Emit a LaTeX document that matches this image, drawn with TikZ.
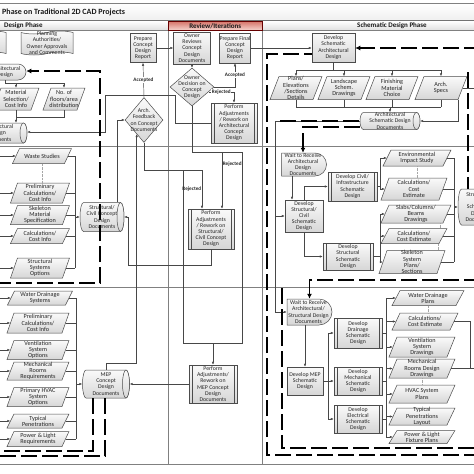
\documentclass[tikz,border=0pt]{standalone}
\usepackage{fontspec}
\setmainfont{Carlito}
\usetikzlibrary{arrows.meta,shapes.geometric,shapes.misc,shapes.symbols,shadows,calc}
\definecolor{revtop}{RGB}{214,118,108}
\definecolor{revbot}{RGB}{246,214,208}
\tikzset{
 ln/.style={draw=black!72, line width=0.45pt},
 arr/.style={ln, -{Latex[length=3pt,width=2.4pt]}},
 dotl/.style={draw=black!35, line width=0.4pt, densely dotted},
 thk/.style={draw=black, line width=1.6pt, dash pattern=on 16pt off 5pt},
 thkarr/.style={thk, -{Latex[length=5pt,width=5pt]}},
 lane/.style={draw=black!50, line width=0.6pt},
 txt/.style={font=\fontsize{5.8}{6.2}\selectfont, align=center, inner sep=0pt, text=black!85},
 ptxt/.style={font=\fontsize{6.2}{6.2}\selectfont, align=center, inner sep=0pt, text=black!85},
 shp/.style={draw=black!70, line width=0.5pt, top color=black!2, bottom color=black!16},
 box/.style={rectangle, shp, txt, drop shadow={shadow xshift=0.8pt,shadow yshift=-0.8pt,fill=black!45}},
 ppbox/.style={box, path picture={\draw[draw=black!70,line width=0.5pt]
   ([xshift=3pt]path picture bounding box.south west) -- ([xshift=3pt]path picture bounding box.north west)
   ([xshift=-3pt]path picture bounding box.south east) -- ([xshift=-3pt]path picture bounding box.north east);}},
 dly/.style={rounded rectangle, rounded rectangle left arc=none, shp, inner sep=0pt},
 dia/.style={diamond, shp, inner sep=0pt},
 tp/.style={tape, tape bend height=3pt, shp, inner sep=0pt},
 lbl/.style={font=\bfseries\fontsize{5.2}{6}\selectfont, text=black!85, inner sep=0.6pt, fill=white},
 hdr/.style={font=\bfseries\fontsize{7}{8}\selectfont, inner sep=0pt, text=black!90},
}
\newcommand\para[7][7]{%
  \pgfmathsetmacro\paA{#3-#5/2-#1/2}%
  \pgfmathsetmacro\paB{#3+#5/2-#1/2}%
  \pgfmathsetmacro\paC{#3+#5/2+#1/2}%
  \pgfmathsetmacro\paD{#3-#5/2+#1/2}%
  \pgfmathsetmacro\paT{#4-#6/2}%
  \pgfmathsetmacro\paU{#4+#6/2}%
  \draw[shp] (\paA,\paU) -- (\paB,\paU) -- (\paC,\paT) -- (\paD,\paT) -- cycle;
  \node[ptxt, minimum width=#5, minimum height=#6] (#2) at (#3,#4) {#7};
}
\newcommand\cylsh[5]{%
  \pgfmathsetmacro\cyA{#2-#4/2+3.5}%
  \pgfmathsetmacro\cyB{#2+#4/2-3.5}%
  \pgfmathsetmacro\cyT{#3-#5/2}%
  \pgfmathsetmacro\cyU{#3+#5/2}%
  \pgfmathsetmacro\cyR{#5/2}%
  \draw[shp] (\cyA,\cyT) -- (\cyB,\cyT) arc[start angle=-90,end angle=90,x radius=3.5,y radius=\cyR] -- (\cyA,\cyU) arc[start angle=90,end angle=270,x radius=3.5,y radius=\cyR] -- cycle;
  \draw[shp] (\cyB,#3) ellipse[x radius=3.5,y radius=\cyR];
  \node[minimum width=#4, minimum height=#5, inner sep=0pt] (#1) at (#2,#3) {};
}
\begin{document}
\begin{tikzpicture}[x=1pt,y=-1pt]
\useasboundingbox (0,0) rectangle (474,474);
\clip (0,0) rectangle (474,474);
\fill[white] (0,0) rectangle (474,474);
% bands
\shade[top color=white, bottom color=black!6] (-2,3) rectangle (480,20);
\shade[top color=white, bottom color=black!12] (-2,21) rectangle (480,30);
\draw[lane] (-2,3) -- (480,3);
\draw[draw=black!55, line width=1pt] (-2,20.5) -- (480,20.5);
\draw[lane] (-2,30) -- (480,30);
\draw[lane] (-2,146) -- (480,146);
\draw[lane] (-2,287) -- (480,287);
\draw[lane] (-2,464) -- (480,464);
\draw[lane] (168,21) -- (168,464);
\draw[lane] (262,21) -- (262,464);
\node[anchor=west, font=\bfseries\fontsize{8}{9}\selectfont, inner sep=0pt, text=black!90] (title) at (2,12) {Phase on Traditional 2D CAD Projects};
\node[hdr, anchor=west] (dphase) at (4,25.7) {Design Phase};
\node[hdr, anchor=north west, minimum width=94, minimum height=9, top color=revtop, bottom color=revbot, draw=red!40!black, line width=0.5pt] (revhdr) at (168,21.2) {Review/Iterations};
\node[hdr, anchor=west] (sphase) at (357,25.7) {Schematic Design Phase};

% ---------- top-left lane
\node[tp, minimum width=52, minimum height=24] (plan0) at (-20,43) {};
\node[tp, minimum width=52, minimum height=24] (plan) at (47,43) {};
\node[txt] (plan-t) at (plan) {Planning\\Authorities/\\Owner Approvals\\and Comments};
\node[dly, minimum width=42, minimum height=16] (archdes) at (5,72) {};
\node[txt] (archdes-t) at (archdes) {Architectural\\Design};
\para[8]{matsel}{16}{99}{38}{22}{Material\\Selection/\\Cost Info}
\para[8]{floors}{64}{99}{34}{22}{No. of\\floors/area\\distribution}
\cylsh{archdoc}{0}{133}{54}{20}
\node[txt] (archdoc-t) at (-2,133) {Architectural\\Design\\Documents};

\node[box, minimum width=26, minimum height=29] (prep) at (143,48) {Prepare\\Concept\\Design\\Report};
\node[box, minimum width=37, minimum height=32] (ownrev) at (192,48) {Owner\\Reviews\\Concept\\Design\\Documents};
\node[dia, minimum width=44, minimum height=38] (ownerdec) at (192,87) {};
\node[txt] (ownerdec-t) at (ownerdec) {Owner\\Decision on\\Concept\\Design};
\node[box, minimum width=30, minimum height=30] (prepfin) at (235,48) {Prepare Final\\Concept\\Design\\Report};
\node[dia, minimum width=38, minimum height=45] (archfb) at (144,120) {};
\node[txt] (archfb-t) at (archfb) {Arch.\\Feedback\\on Concept\\Documents};
\node[ppbox, minimum width=46, minimum height=40] (perfarch) at (234,123) {Perform\\Adjustments\\/ Rework on\\Architectural\\Concept\\Design};

% ---------- middle-left lane
\para{waste}{42}{156}{52}{15}{Waste Studies}
\para{prelim1}{40}{193}{52}{20}{Preliminary\\Calculations/\\Cost Info}
\para{skel}{40}{215}{52}{19}{Skeleton\\Material\\Specification}
\para{calc1}{40}{236}{52}{15}{Calculations/\\Cost Info}
\para{sso}{40}{268}{52}{20}{Structural\\Systems\\Options}
\cylsh{sccyl}{102}{217}{44}{29}
\node[txt] (sccyl-t) at (102,217) {Structural/\\Civil Concept\\Design\\Documents};
\node[ppbox, minimum width=46, minimum height=40] (perfstr) at (211,229) {Perform\\Adjustments\\/ Rework on\\Structural/\\Civil Concept\\Design};

% ---------- bottom-left lane
\para{wd}{40}{298}{58}{14}{Water Drainage\\Systems}
\para{prelim2}{38}{323}{55}{20}{Preliminary\\Calculations/\\Cost Info}
\para{vent}{38}{350}{55}{19}{Ventilation\\System\\Options}
\para{mech}{38}{371}{55}{18}{Mechanical\\Rooms\\Requirements}
\para{hvac}{38}{397}{55}{19}{Primary HVAC\\System\\Options}
\para{typ}{38}{421}{55}{14}{Typical\\Penetrations}
\para{pow}{38}{439}{55}{15}{Power \& Light\\Requirements}
\cylsh{mepcyl}{106}{384}{47}{28}
\node[txt] (mepcyl-t) at (106,384) {MEP\\Concept\\Design\\Documents};
\node[ppbox, minimum width=48, minimum height=38] (perfmep) at (213,384) {Perform\\Adjustments/\\Rework on\\MEP Concept\\Design\\Documents};

% ---------- right top lane
\node[box, minimum width=43, minimum height=29] (devsch) at (333.5,47.5) {Develop\\Schematic\\Architectural\\Design};
\para[9]{ped}{296}{88}{43}{23}{Plans/\\Elevations\\/Sections\\Details}
\para[9]{land}{344}{88}{43}{23}{Landscape\\Schem.\\Drawings}
\para[9]{fin}{392}{88}{43}{23}{Finishing\\Material\\Choice}
\para[9]{specs}{441}{88}{43}{23}{Arch.\\Specs}
\cylsh{archschcyl}{390}{121}{60}{17}
\node[txt] (archschcyl-t) at (390,121) {Architectural\\Schematic Design\\Documents};

% ---------- right middle lane
\draw[thk] (468,72) -- (468,190);
\node[dly, minimum width=45, minimum height=23] (waitstr) at (304,164.5) {};
\node[txt] (waitstr-t) at (303,164.5) {Wait to Receive\\Architectural\\Design\\Documents};
\node[box, minimum width=38, minimum height=32] (devsc) at (304,216) {Develop\\Structural/\\Civil\\Schematic\\Design};
\node[ppbox, minimum width=49, minimum height=29] (devciv) at (352.5,186.5) {Develop Civil/\\Infrastructure\\Schematic\\Design};
\node[ppbox, minimum width=50, minimum height=27] (devstr) at (348,256.5) {Develop\\Structural\\Schematic\\Design};
\para[8]{env}{417}{158}{60}{16}{Environmental\\Impact Study}
\para[8]{calc2}{414}{189}{58}{22}{Calculations/\\Cost\\Estimate}
\para[8]{slabs}{416}{214}{62}{18}{Slabs/Columns/\\Beams\\Drawings}
\para[8]{calc3}{414}{236}{58}{15}{Calculations/\\Cost Estimate}
\para[8]{skelsys}{412}{262}{58}{23}{Skeleton\\System\\Plans/\\Sections}
\cylsh{sschcyl}{482}{207}{48}{36}
\node[txt] (sschcyl-t) at (479,207) {Structural/\\Civil\\Schematic\\Design\\Documents};

% ---------- right bottom lane
\node[dly, minimum width=45, minimum height=26] (waitmep) at (309.5,312) {};
\node[txt] (waitmep-t) at (308.5,312) {Wait to Receive\\Architectural/\\Structural Design\\Documents};
\node[box, minimum width=36, minimum height=28] (devmep) at (305,381) {Develop MEP\\Schematic\\Design};
\node[ppbox, minimum width=48, minimum height=30] (devdr) at (358,333) {Develop\\Drainage\\Schematic\\Design};
\node[ppbox, minimum width=48, minimum height=28] (devme) at (358,381) {Develop\\Mechanical\\Schematic\\Design};
\node[ppbox, minimum width=48, minimum height=28] (devel) at (358,419) {Develop\\Electrical\\Schematic\\Design};
\para[8]{wdp}{428}{298}{64}{15}{Water Drainage\\Plans}
\para[8]{calc4}{425}{321.5}{58}{17}{Calculations/\\Cost Estimate}
\para[8]{vsd}{422}{347}{58}{20}{Ventilation\\System\\Drawings}
\para[8]{mrd}{422}{368.5}{58}{19}{Mechanical\\Rooms Design\\Drawings}
\para[8]{hvacp}{422}{394}{58}{18}{HVAC System\\Plans}
\para[8]{tpl}{422}{416.5}{58}{17}{Typical\\Penetrations\\Layout}
\para[8]{plf}{422}{437}{58}{13}{Power \& Light\\Fixture Plans}

% ---------- helper coordinates
\coordinate (X0) at (-4,0);
\coordinate (Y83) at (0,83);
\coordinate (Y117) at (0,117);
\coordinate (K1) at (175,95);
\coordinate (K2) at (105,132);
\coordinate (Y152) at (0,152);
\coordinate (Y170) at (0,170);
\coordinate (Y343) at (0,343);
\coordinate (X242) at (242,0);
\coordinate (X222) at (222,0);
\coordinate (X202) at (202,0);
\coordinate (X183) at (183,0);
\coordinate (H265) at (0,265);
\coordinate (X128) at (128,0);
\coordinate (H363) at (0,363);
\coordinate (X75) at (75,0);
\coordinate (X76) at (76,0);
\coordinate (Y70) at (0,70);
\coordinate (Y107) at (0,107);
\coordinate (X458) at (458,0);
\coordinate (E88) at (480,88);
\coordinate (X275) at (275,0);
\coordinate (X380) at (380,0);
\coordinate (X454) at (454,0);
\coordinate (X328) at (328,0);
\coordinate (X386) at (386,0);
\coordinate (X470) at (470,0);
\coordinate (E480) at (480,0);

% ---------- connectors, left
\draw[ln] (archdes.south) |- (floors.north |- Y83);
\draw[arr] (matsel.north |- Y83) -- (matsel.north);
\draw[arr] (floors.north |- Y83) -- (floors.north);
\draw[ln] (matsel.south) |- (floors.south |- Y117) -- (floors.south);
\draw[arr] (matsel.south |- Y117) -- (matsel.south |- archdoc.north);
\draw[arr] (perfarch.west) -| (K1) -| (K2) -- (archdoc.east |- K2);
\draw[arr] (archfb.north) -- node[lbl]{Accepted} (prep.south);
\draw[arr] (prep.east) -- (prep.east -| ownrev.west);
\draw[arr] (ownrev.south) -- (ownerdec.north);
\draw[arr] (ownerdec.east) -| node[lbl, pos=0.75]{Accepted} (prepfin.south);
\coordinate (od1) at ($(ownerdec.east)!0.25!(ownerdec.south)$);
\draw[arr] (od1) -| node[lbl, pos=0.25]{Rejected} (perfarch.north);
\draw[ln] (ownerdec.south) |- (X242 |- Y152) -- (X242 |- Y343) -| (X183 |- Y170);
\draw[arr] (X222 |- Y152) -- node[lbl, right, pos=0.22, fill=none]{Rejected} (X222 |- perfstr.north);
\draw[ln] (archfb.south) |- (X202 |- Y170);
\draw[arr] (X202 |- Y170) -- node[lbl, left, fill=none]{Rejected} (X202 |- perfstr.north);
\draw[arr] (perfmep.north |- Y343) -- (perfmep.north);
\draw[arr] (perfstr.south) |- (X128 |- H265) |- (sccyl.east);
\coordinate (afb1) at ($(archfb.west)!0.62!(archfb.south)$);
\draw[arr] (mepcyl.north) |- (afb1 |- H363) -- (afb1);
\draw[arr] ([xshift=15pt]sccyl.north) |- (archfb.west);
\draw[arr] (perfmep.west) -- (mepcyl.east);
\foreach \n in {waste,prelim1,skel,calc1,sso,wd,prelim2,vent,mech,hvac,typ,pow}
  \draw[arr] (\n.west -| X0) -- (\n.west);
\foreach \n in {waste,prelim1,skel,calc1,sso}
  \draw[ln] (\n.east) -- (\n.east -| X75);
\draw[ln] (waste.east -| X75) -- (sso.east -| X75);
\draw[arr] (sccyl.west -| X75) -- (sccyl.west);
\foreach \n in {wd,prelim2,vent,mech,hvac,typ,pow}
  \draw[ln] (\n.east) -- (\n.east -| X76);
\draw[ln] (wd.east -| X76) -- (pow.east -| X76);
\draw[arr] (mepcyl.west -| X76) -- (mepcyl.west);
\draw[dotl] (waste.south) -- (waste.south |- prelim1.north);

% ---------- connectors, right
\draw[arr] (prepfin.east) -- (prepfin.east -| devsch.west);
\draw[ln] (devsch.south) -- (devsch.south |- Y70);
\draw[ln] (ped.north |- Y70) -- (specs.north |- Y70);
\foreach \n in {ped,land,fin,specs} \draw[arr] (\n.north |- Y70) -- (\n.north);
\foreach \n in {ped,land,fin,specs} \draw[ln] (\n.south) -- (\n.south |- Y107);
\draw[ln] (ped.south |- Y107) -- (specs.south |- Y107);
\draw[arr] (archschcyl.north |- Y107) -- (archschcyl.north);
\draw[arr] (X458 |- specs.south) |- (archschcyl.east);
\draw[ln] (specs.east) -- (E88);
\draw[ln] (archschcyl.west) -- (X275 |- archschcyl.west) -- (X275 |- waitmep.west);
\draw[arr] (X275 |- waitmep.west) -- (waitmep.west);
\draw[arr] (X275 |- devsc.west) -- (devsc.west);
\draw[arr] ([xshift=-12pt]waitstr.south) -- ([xshift=-12pt]devsc.north);
\draw[arr] (devsc.north) |- (devciv.west);
\draw[arr] (devsc.south) |- (devstr.west);
\draw[ln] (devciv.east) -- (devciv.east -| X380);
\draw[ln] (env.west -| X380) -- (calc2.west -| X380);
\foreach \n in {env,calc2} \draw[arr] (\n.west -| X380) -- (\n.west);
\draw[ln] (devstr.east) -- (devstr.east -| X380);
\draw[ln] (slabs.west -| X380) -- (skelsys.west -| X380);
\foreach \n in {slabs,calc3,skelsys} \draw[arr] (\n.west -| X380) -- (\n.west);
\foreach \n in {env,calc2,slabs,calc3,skelsys} \draw[ln] (\n.east) -- (\n.east -| X454);
\draw[ln] (env.east -| X454) -- (skelsys.east -| X454);
\draw[arr] (sschcyl.west -| X454) -- (sschcyl.west);
\draw[dotl] (env.south) -- (env.south |- calc2.north);
\draw[dotl] ([xshift=24pt]slabs.south) -- ([xshift=24pt]slabs.south |- calc3.north);
\draw[dotl] ([xshift=24pt]calc3.south) -- ([xshift=24pt]calc3.south |- skelsys.north);
\draw[arr] (devmep.north |- waitmep.south) -- (devmep.north);
\draw[ln] (devmep.east) -- (devmep.east -| X328);
\draw[ln] (devdr.west -| X328) -- (devel.west -| X328);
\foreach \n in {devdr,devme,devel} \draw[arr] (\n.west -| X328) -- (\n.west);
\foreach \n in {devdr,devme,devel} \draw[ln] (\n.east) -- (\n.east -| X386);
\draw[ln] (wdp.west -| X386) -- (plf.west -| X386);
\foreach \n in {wdp,calc4,vsd,mrd,hvacp,tpl,plf} \draw[arr] (\n.west -| X386) -- (\n.west);
\draw[ln] (calc4.east) -| (X470 |- mrd.east);
\draw[ln] (mrd.east) -- (mrd.east -| E480);
\draw[dotl] (wdp.south) -- (wdp.south |- calc4.north);
\draw[dotl] (mrd.south) -- (mrd.south |- hvacp.north);

% ---------- thick dashed flows
\coordinate (L0) at (-5,283);
\coordinate (L1) at (100,283);
\coordinate (L2) at (100,71);
\draw[thkarr] (L0) -- (L1) -- (L2) -- (archdes.east |- L2);
\coordinate (M1) at (93,451);
\coordinate (M0) at (-5,451);
\coordinate (M3) at (105,456);
\coordinate (M2) at (-5,456);
\draw[thk] (mepcyl.south -| M1) -- (M1) -- (M0);
\draw[thk] (mepcyl.south -| M3) -- (M3) -- (M2);
\coordinate (R0) at (480,455);
\coordinate (R1) at (267,455);
\coordinate (R2) at (267,54);
\draw[thk] (R0) -- (R1) -- (R2) -- (devsch.west |- R2);
\coordinate (R3) at (480,48);
\draw[thkarr] (R3) -- (R3 -| devsch.east);
\coordinate (R6) at (480,280);
\coordinate (R7) at (309.5,280);
\draw[thkarr] (R6) -- (R7) -- (R7 |- waitmep.north);
\coordinate (R8) at (282,288);
\coordinate (R9) at (282,448);
\coordinate (R10) at (480,448);
\draw[thk] (R8) -- (R9) -- (R10);
\coordinate (R11) at (303,127);
\draw[thkarr] ([yshift=-6pt]archschcyl.west) -- (R11) -- (R11 |- waitstr.north);
\coordinate (R12) at (277,121);
\draw[thk] ([xshift=-1pt]archschcyl.west) -- (R12);
\end{tikzpicture}
\end{document}
